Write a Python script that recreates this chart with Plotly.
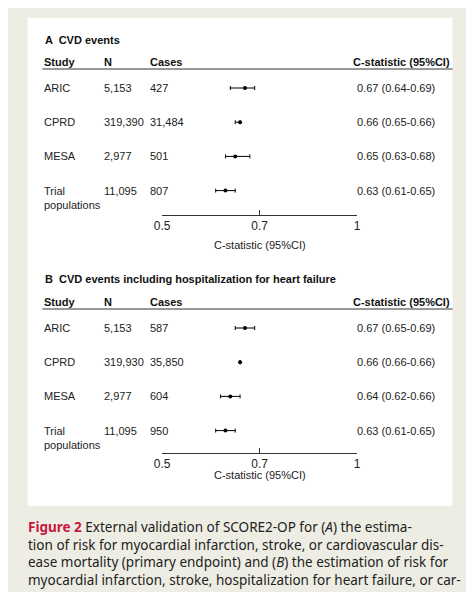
import plotly.graph_objects as go

W, H = 474, 592
OFF = 8  # page body margin of the html page

studies = ["ARIC", "CPRD", "MESA", "Trial<br>populations"]
n_a = ["5,153", "319,390", "2,977", "11,095"]
cases_a = ["427", "31,484", "501", "807"]
c_a = [0.67, 0.66, 0.65, 0.63]
lo_a = [0.64, 0.65, 0.63, 0.61]
hi_a = [0.69, 0.66, 0.68, 0.65]
lab_a = ["0.67 (0.64-0.69)", "0.66 (0.65-0.66)", "0.65 (0.63-0.68)", "0.63 (0.61-0.65)"]

n_b = ["5,153", "319,930", "2,977", "11,095"]
cases_b = ["587", "35,850", "604", "950"]
c_b = [0.67, 0.66, 0.64, 0.63]
lo_b = [0.65, 0.66, 0.62, 0.61]
hi_b = [0.69, 0.66, 0.66, 0.65]
lab_b = ["0.67 (0.65-0.69)", "0.66 (0.66-0.66)", "0.64 (0.62-0.66)", "0.63 (0.61-0.65)"]

tick_vals = [0.5, 0.7, 0.9]
tick_text = ["0.5", "0.7", "1"]

FW, FH = W - OFF, H - OFF

def py(px):
    return 1 - (px - OFF) / FH

def px_x(px):
    return (px - OFF) / FW

fig = go.Figure()
ann = []
shapes = []

shapes.append(dict(type="rect", xref="paper", yref="paper", x0=px_x(20), x1=px_x(456),
                   y0=py(506), y1=py(18), fillcolor="white", line_width=0, layer="below"))

font = dict(family="Liberation Sans, Arial", size=11, color="#222")
bfont = dict(family="Liberation Sans, Arial", size=11, color="#111", weight="bold")

panels = [
    ("A  CVD events", 40, 62, 69, 215, n_a, cases_a, c_a, lo_a, hi_a, lab_a, "x", "y"),
    ("B  CVD events including hospitalization for heart failure", 279, 302, 309, 453,
     n_b, cases_b, c_b, lo_b, hi_b, lab_b, "x2", "y2"),
]

for k, (title, ty, hy, top, axy, n, cases, c, lo, hi, lab, xa, ya) in enumerate(panels):
    rows = list(range(len(studies)))
    fig.add_trace(go.Scatter(
        x=c, y=rows, xaxis=xa, yaxis=ya, mode="markers",
        marker=dict(color="black", size=4),
        error_x=dict(type="data", symmetric=False,
                     array=[h - v for h, v in zip(hi, c)],
                     arrayminus=[v - l for v, l in zip(c, lo)],
                     color="black", thickness=1, width=2),
        showlegend=False))
    ann.append(dict(text=title, x=px_x(36), y=py(ty), xref="paper", yref="paper",
                    xanchor="left", yanchor="middle", showarrow=False, font=bfont))
    for txt, xp, anc in [("Study", 35, "left"), ("N", 96, "left"), ("Cases", 143, "left"),
                         ("C-statistic (95%CI)", 456, "right")]:
        ann.append(dict(text=txt, x=px_x(xp), y=py(hy), xref="paper", yref="paper",
                        xanchor=anc, yanchor="middle", showarrow=False, font=bfont))
    shapes.append(dict(type="line", xref="paper", yref="paper", x0=px_x(35), x1=px_x(456),
                       y0=py(top), y1=py(top), line=dict(color="#333", width=1)))
    for i in rows:
        ann.append(dict(text=studies[i], x=px_x(35), y=i, xref="paper", yref=ya,
                        xanchor="left", yanchor="top" if i == 3 else "middle",
                        yshift=8 if i == 3 else 0, align="left",
                        showarrow=False, font=font))
        ann.append(dict(text=n[i], x=px_x(96), y=i, xref="paper", yref=ya, xanchor="left",
                        showarrow=False, font=font))
        ann.append(dict(text=cases[i], x=px_x(143), y=i, xref="paper", yref=ya, xanchor="left",
                        showarrow=False, font=font))
        ann.append(dict(text=lab[i], x=px_x(356), y=i, xref="paper", yref=ya, xanchor="left",
                        showarrow=False, font=font))
    ann.append(dict(text="C-statistic (95%CI)", x=px_x(258), y=py(axy + 30), xref="paper",
                    yref="paper", showarrow=False, font=font))
    r0 = top + 19
    bottom_val = (axy - r0) / 34.2
    top_val = (top - r0) / 34.2
    yl = dict(domain=[py(axy), py(top)], range=[bottom_val, top_val], visible=False,
              fixedrange=True)
    xl = dict(domain=[px_x(158), px_x(358)], range=[0.5, 0.9], anchor=ya,
              showline=True, linecolor="#333", linewidth=1, ticks="inside", ticklen=5,
              tickcolor="#333", tickvals=tick_vals, ticktext=tick_text,
              showgrid=False, zeroline=False,
              tickfont=dict(family="Liberation Sans, Arial", size=12, color="#222"))
    if k == 0:
        fig.update_layout(xaxis=xl, yaxis=yl)
    else:
        fig.update_layout(xaxis2=xl, yaxis2=yl)

caption = ("<b><span style='color:#c8163c'>Figure 2</span></b> External validation of SCORE2-OP for (<i>A</i>) the estima-<br>"
           "tion of risk for myocardial infarction, stroke, or cardiovascular dis-<br>"
           "ease mortality (primary endpoint) and (<i>B</i>) the estimation of risk for<br>"
           "myocardial infarction, stroke, hospitalization for heart failure, or car-")
ann.append(dict(text=caption, x=px_x(18), y=py(516), xref="paper", yref="paper",
                xanchor="left", yanchor="top", align="left", showarrow=False,
                font=dict(family="Noto Sans", size=13.5, color="#222")))

fig.update_layout(width=FW, height=FH, margin=dict(l=0, r=0, t=0, b=0),
                  paper_bgcolor="#eeede4", plot_bgcolor="rgba(0,0,0,0)",
                  annotations=ann, shapes=shapes)
fig.write_html("out.html")
